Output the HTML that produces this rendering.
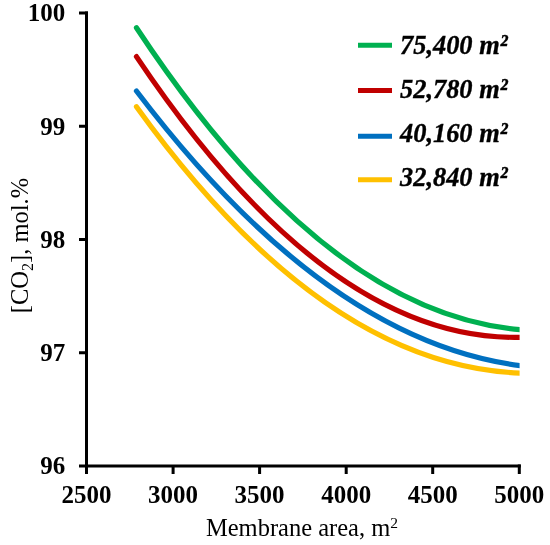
<!DOCTYPE html>
<html>
<head>
<meta charset="utf-8">
<style>
html,body{margin:0;padding:0;background:#fff;}
body{width:550px;height:545px;overflow:hidden;}
svg{display:block;}
text{font-family:"Liberation Serif","Times New Roman",serif;fill:#000;}
.tk{font-size:25px;font-weight:bold;}
.lg{font-size:26.4px;font-weight:bold;font-style:italic;stroke:#000;stroke-width:0.35px;}
.ti{font-size:24.5px;}
</style>
</head>
<body>
<svg width="550" height="545" viewBox="0 0 550 545">
<defs>
<clipPath id="pa"><rect x="87" y="0" width="432.6" height="466"/></clipPath>
</defs>
<!-- curves -->
<g clip-path="url(#pa)" fill="none" stroke-width="5.2" stroke-linecap="round">
<path d="M136.45,27.70 C264.97,222.22 393.48,319.75 522,329.77" stroke="#00B050"/>
<path d="M136.45,56.61 C264.97,248.24 393.48,341.04 522,337.24" stroke="#C00000"/>
<path d="M136.45,91.01 C264.97,260.36 393.48,350.06 522,365.84" stroke="#0070C0"/>
<path d="M136.45,106.71 C264.97,285.04 393.48,369.15 522,373.11" stroke="#FFC000"/>
</g>
<!-- axes -->
<g stroke="#000" stroke-width="3" fill="none" stroke-linecap="butt">
<path d="M86.5,11.5 V474"/>
<path d="M79,466 H520.8"/>
<path d="M79,13 H88 M79,126.25 H88 M79,239.5 H88 M79,352.75 H88"/>
<path d="M173.1,466 V474 M259.6,466 V474 M346.2,466 V474 M432.7,466 V474 M519.3,464.5 V474"/>
</g>
<!-- y tick labels -->
<g class="tk" text-anchor="end">
<text transform="translate(65.2,20.90) scale(1,1.04)">100</text>
<text transform="translate(65.2,134.85) scale(1,1.04)">99</text>
<text transform="translate(65.2,248.1) scale(1,1.04)">98</text>
<text transform="translate(65.2,360.65) scale(1,1.04)">97</text>
<text transform="translate(65.2,473.90) scale(1,1.04)">96</text>
</g>
<!-- x tick labels -->
<g class="tk" text-anchor="middle">
<text transform="translate(86.5,502.7) scale(1,1.04)">2500</text>
<text transform="translate(173.1,502.7) scale(1,1.04)">3000</text>
<text transform="translate(259.6,502.7) scale(1,1.04)">3500</text>
<text transform="translate(346.2,502.7) scale(1,1.04)">4000</text>
<text transform="translate(432.7,502.7) scale(1,1.04)">4500</text>
<text transform="translate(519.3,502.7) scale(1,1.04)">5000</text>
</g>
<!-- axis titles -->
<text class="ti" x="302" y="536" text-anchor="middle">Membrane area, m<tspan dy="-8" font-size="15.5">2</tspan></text>
<text class="ti" transform="translate(27.6,245.6) rotate(-90)" text-anchor="middle">[CO<tspan dy="5" font-size="16">2</tspan><tspan dy="-5">], mol.%</tspan></text>
<!-- legend -->
<g stroke-width="5" fill="none">
<path d="M358,45.25 H392" stroke="#00B050"/>
<path d="M358,90.5 H392" stroke="#C00000"/>
<path d="M358,136.2 H392" stroke="#0070C0"/>
<path d="M358,179.75 H392" stroke="#FFC000"/>
</g>
<g class="lg">
<text transform="translate(400,54.3) scale(1,1.06)">75,400 m²</text>
<text transform="translate(400,98.4) scale(1,1.06)">52,780 m²</text>
<text transform="translate(400,142) scale(1,1.06)">40,160 m²</text>
<text transform="translate(400,185.7) scale(1,1.06)">32,840 m²</text>
</g>
</svg>
</body>
</html>
